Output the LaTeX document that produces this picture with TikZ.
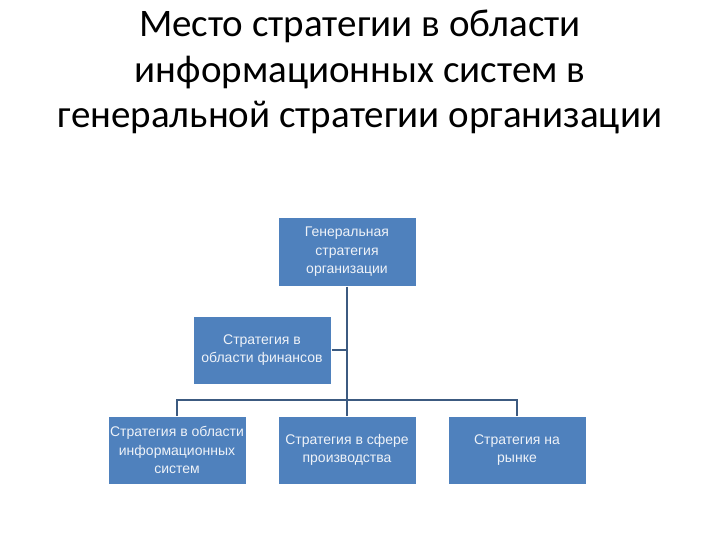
\documentclass[tikz,border=0pt]{standalone}
\usepackage{fontspec}
\setmainfont{Carlito}
\newfontfamily\boxfont{Liberation Sans}
\definecolor{boxblue}{HTML}{4F81BD}
\definecolor{linecol}{HTML}{3C5A80}
\definecolor{boxtext}{HTML}{EEF2F8}

\begin{document}
\begin{tikzpicture}[x=1pt,y=-1pt,
  blok/.style={minimum width=138pt,minimum height=68pt,fill=boxblue,draw=white,line width=1pt,
    text=boxtext,align=center,inner sep=1pt,font=\boxfont\fontsize{14}{18.5}\selectfont},
  svyaz/.style={draw=linecol,line width=1.5pt}]
\useasboundingbox (0,0) rectangle (720,540);

\node[font=\fontsize{39}{45.5}\selectfont,align=center] (zagolovok) at (360,72)
  {Место стратегии в области\\информационных систем в\\генеральной стратегии организации};

\node[blok] (gen) at (347,252) {Генеральная\\стратегия\\организации};
\node[blok] (fin) at (262,350) {Стратегия в\\области финансов};
\node[blok] (info) at (177,450) {Стратегия в области\\информационных\\систем};
\node[blok] (proizv) at (347,450) {Стратегия в сфере\\производства};
\node[blok] (rynok) at (517,450) {Стратегия на\\рынке};

\coordinate (razv) at (347,400);
\draw[svyaz] (gen.south) -- (razv);
\draw[svyaz] (fin.east) -- (fin.east -| razv);
\draw[svyaz] (info.north) -- (info.north |- razv) -- (rynok.north |- razv) -- (rynok.north);
\draw[svyaz] (proizv.north) -- (razv);
\end{tikzpicture}
\end{document}
